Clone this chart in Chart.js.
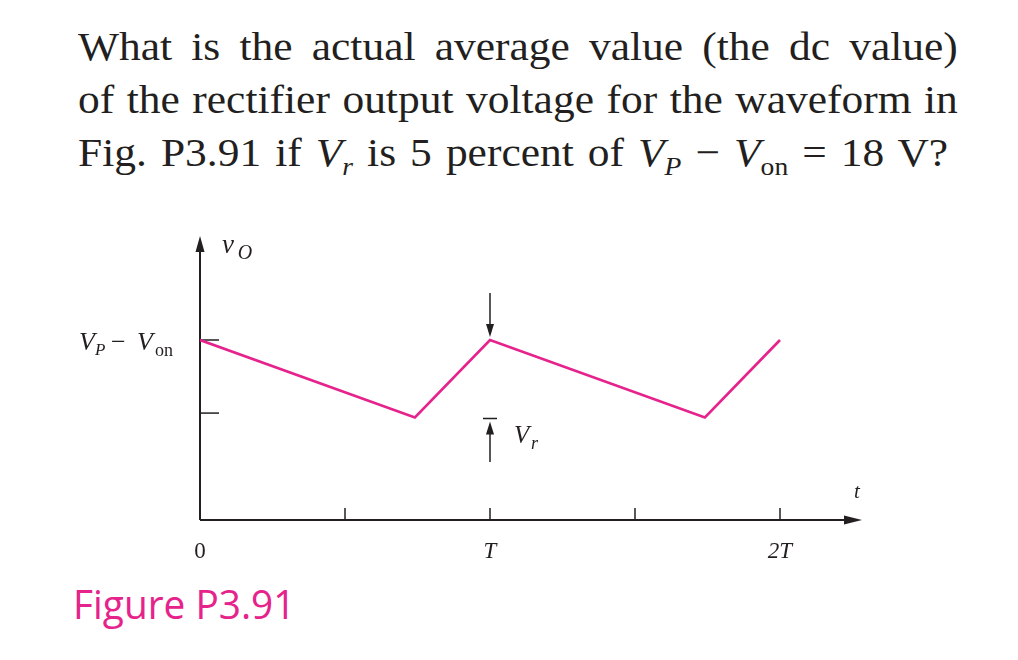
<!DOCTYPE html>
<html><head><meta charset="utf-8">
<script src="https://cdn.jsdelivr.net/npm/chart.js"></script>
<style>
body{margin:0;background:#fff;width:1018px;height:660px;overflow:hidden;position:relative}
#q{position:absolute;left:78px;top:20px;width:830px;font:41px "Liberation Serif",serif;color:#231f20;line-height:53px;transform:scaleX(1.06);transform-origin:0 0}
#q div{text-align:justify;text-align-last:justify;white-space:nowrap}
#q div.l{text-align-last:left;word-spacing:3px}
#q sub{font-size:26px;line-height:0}
#cap{position:absolute;left:73px;top:576px;font:40px "Open Sans",sans-serif;color:#e5238b;transform:scaleX(0.97);transform-origin:0 0}
canvas{position:absolute;left:0;top:0}
</style></head><body>
<div id="q"><div>What is the actual average value (the dc value)</div><div>of the rectifier output voltage for the waveform in</div><div class="l">Fig. P3.91 if <i>V<sub>r</sub></i> is 5 percent of <i>V<sub>P</sub></i> − <i>V</i><sub>on</sub> = 18 V?</div></div>
<div id="cap">Figure P3.91</div>
<canvas id="c" width="1018" height="660"></canvas>
<script>
const times=[0,0.741,1,1.741,2];
const volts=[1,0.57,1,0.57,1];
const tickVals=[0,0.5,1,1.5,2];
const tickLabels=['0','','T','','2T'];
const yTicks=[1,0.594];
const ink='#231f20';
function arrow(ctx,x,y,dx,dy,len,w){ctx.beginPath();ctx.moveTo(x,y);ctx.lineTo(x-dx*len-dy*w,y-dy*len+dx*w);ctx.lineTo(x-dx*len+dy*w,y-dy*len-dx*w);ctx.closePath();ctx.fill();}
const deco={id:'deco',beforeDatasetsDraw(ch){
 const c=ch.ctx,xs=ch.scales.x,ys=ch.scales.y;
 const x0=xs.getPixelForValue(0),y0=ys.getPixelForValue(0);
 c.save();c.strokeStyle=ink;c.fillStyle=ink;c.lineWidth=2;
 c.beginPath();c.moveTo(x0,y0);c.lineTo(x0,245);c.moveTo(x0,y0);c.lineTo(850,y0);c.stroke();
 arrow(c,x0,236,0,-1,16,4.5);arrow(c,862,y0,1,0,18,4.5);
 c.lineWidth=1.5;
 tickVals.forEach((v,i)=>{if(i==0)return;const px=xs.getPixelForValue(v);c.beginPath();c.moveTo(px,y0);c.lineTo(px,y0-12);c.stroke();});
 yTicks.forEach(v=>{const py=ys.getPixelForValue(v);c.beginPath();c.moveTo(x0,py);c.lineTo(x0+19,py);c.stroke();});
 c.textAlign='center';c.textBaseline='alphabetic';
 tickVals.forEach((v,i)=>{const px=xs.getPixelForValue(v);const t=tickLabels[i];if(!t)return;c.font=(t=='0'?'':'italic ')+'23px "Liberation Serif"';c.fillText(t,px,558);});
 c.font='italic 21px "Liberation Serif"';c.fillText('t',857,498);
 c.font='italic 27px "Liberation Serif"';c.fillText('v',228,253);c.font='italic 20px "Liberation Serif"';c.fillText('O',245,259);
 c.textAlign='left';c.font='italic 26px "Liberation Serif"';c.fillText('V',79,350);c.font='italic 17px "Liberation Serif"';c.fillText('P',95,355);
 c.font='26px "Liberation Serif"';c.fillText('−',111,350);c.font='italic 26px "Liberation Serif"';c.fillText('V',137,350);c.font='18px "Liberation Serif"';c.fillText('on',155,356);
 const px=xs.getPixelForValue(1),pk=ys.getPixelForValue(1),tr=ys.getPixelForValue(0.57);
 c.lineWidth=1.5;c.beginPath();c.moveTo(px,293);c.lineTo(px,pk-12);c.stroke();arrow(c,px,pk-3,0,1,13,4);
 c.beginPath();c.moveTo(px-7,tr+1);c.lineTo(px+7,tr+1);c.moveTo(px,462);c.lineTo(px,tr+12);c.stroke();arrow(c,px,tr+4,0,-1,13,4);
 c.font='italic 25px "Liberation Serif"';c.fillText('V',514,443);c.font='italic 18px "Liberation Serif"';c.fillText('r',531,449);
 c.restore();}};
new Chart(document.getElementById('c'),{type:'scatter',
 data:{datasets:[{data:times.map((t,i)=>({x:t,y:volts[i]})),showLine:true,borderColor:'#e6228c',borderWidth:2.6,pointRadius:0,tension:0}]},
 options:{responsive:false,animation:false,events:[],
  layout:{padding:{left:200,right:93,top:250,bottom:140}},
  plugins:{legend:{display:false},tooltip:{enabled:false}},
  scales:{x:{type:'linear',min:0,max:2.5,display:false},y:{min:0,max:1.5,display:false}}},
 plugins:[deco]});
</script></body></html>
